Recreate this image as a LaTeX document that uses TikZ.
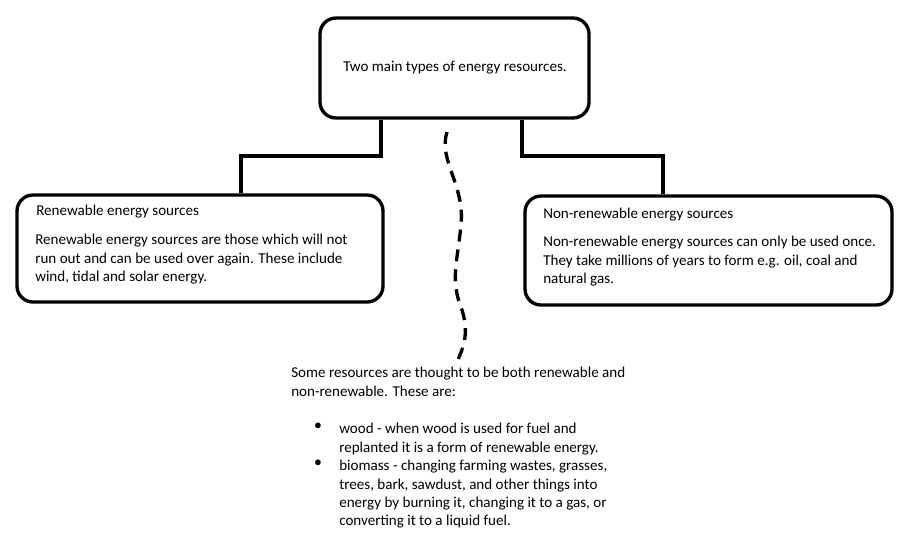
\documentclass[tikz,border=0pt]{standalone}
\usepackage{fontspec}
\setmainfont{Carlito}
\begin{document}
\begin{tikzpicture}[x=0.75pt,y=-0.75pt,
 box/.style={draw,line width=2.5pt,rounded corners=12pt},
 conn/.style={draw,line width=2.5pt},
 txt/.style={anchor=north west,inner sep=0pt,align=left,font=\fontsize{11.3pt}{13.8pt}\selectfont}]
\useasboundingbox[fill=white] (0,0) rectangle (918,553);
\node[box,minimum width=269*0.75pt,minimum height=100*0.75pt] (top) at (454.5,68) {};
\node[box,minimum width=366*0.75pt,minimum height=107*0.75pt] (left) at (200,248.5) {};
\node[box,minimum width=367*0.75pt,minimum height=109*0.75pt] (right) at (708.5,250.5) {};
\node[txt] (tt) at (343,61) {Two main types of energy resources.};
\draw[conn] (top.south -| 381,0) |- (241,156) -- (left.north -| 241,0);
\draw[conn] (top.south -| 522,0) |- (663,156) -- (right.north -| 663,0);
\node[txt] (lt) at (36,205) {Renewable energy sources};
\node[txt] (lb) at (35,234) {Renewable energy sources are those which will not\\run out and can be used over again. These include\\wind, tidal and solar energy.};
\node[txt] (rt) at (543,208) {Non-renewable energy sources};
\node[txt] (rb) at (543,236) {Non-renewable energy sources can only be used once.\\They take millions of years to form e.g. oil, coal and\\natural gas.};
\coordinate (w1) at (447,132);
\coordinate (w2) at (457,362);
\draw[line width=2.5pt,dash pattern=on 9pt off 6pt] (w1) .. controls (438,160) and (465,185) .. (461,225) .. controls (457,265) and (450,280) .. (462,310) .. controls (470,335) and (462,350) .. (w2);
\node[txt] (bt) at (291,367) {Some resources are thought to be both renewable and\\non-renewable. These are:};
\node[txt] (b1) at (314,423) {$\bullet$};
\node[txt] (b2) at (314,460) {$\bullet$};
\node[txt] (bw) at (339,423) {wood - when wood is used for fuel and\\replanted it is a form of renewable energy.};
\node[txt] (bb) at (339,460) {biomass - changing farming wastes, grasses,\\trees, bark, sawdust, and other things into\\energy by burning it, changing it to a gas, or\\converting it to a liquid fuel.};
\end{tikzpicture}
\end{document}
